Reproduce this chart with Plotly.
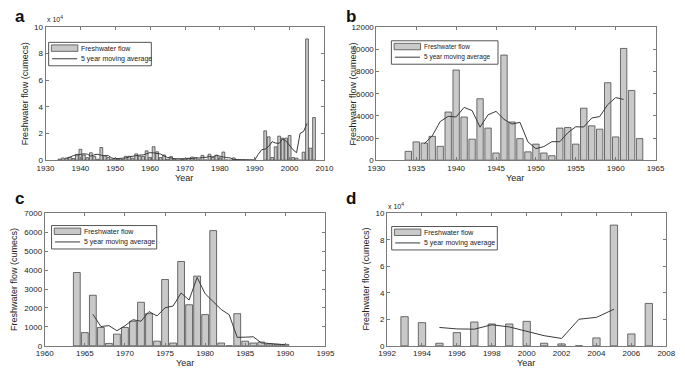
import plotly.graph_objects as go

# ---------------- data ----------------
b_years = list(range(1934, 1964))
b_flow = [800, 1650, 1550, 2150, 1250, 4350, 8150, 3900, 1900, 5550,
          2900, 650, 9500, 3450, 1950, 750, 1450, 650, 400, 2900,
          2950, 1450, 4700, 3100, 2800, 7000, 2100, 10100, 6300, 1950]
b_ma_years = list(range(1936, 1962))
b_ma = [1480, 2190, 3490, 3960, 3910, 4770, 4480, 2980, 4100, 4410,
        3690, 3260, 3420, 1650, 1040, 1230, 1670, 1670, 2480, 3020,
        3000, 3810, 3940, 5020, 5660, 5490]

c_years = list(range(1964, 1991))
c_flow = [3870, 700, 2670, 970, 130, 620, 970, 1300, 2300, 1700,
          250, 3500, 150, 4450, 2170, 3680, 1650, 6080, 150, 0,
          1700, 250, 150, 200, 100, 80, 80]
c_ma_years = list(range(1966, 1991))
c_ma = [1670, 1020, 1070, 800, 1060, 1380, 1300, 1810, 1580, 2010,
        2100, 2790, 2420, 3610, 2750, 2310, 1920, 1640, 450, 460,
        480, 160, 120, 90, 60]

d_years = list(range(1993, 2008))
d_flow = [22000, 17500, 2000, 10000, 18000, 16500, 16500, 18500, 2000, 1500,
          0, 6000, 91000, 9000, 32000]
d_ma_years = list(range(1995, 2006))
d_ma = [13900, 12800, 12600, 15900, 14300, 11000, 7700, 5600, 20100, 21500, 27600]

# moving-average points of the combined record where the panels join (panel a)
a_join1_years = [1962, 1963, 1964, 1965]
a_join1 = [4860, 4580, 3100, 2030]
a_join2_years = [1991, 1992, 1993, 1994]
a_join2 = [4430, 7900, 8300, 10300]

a_years = b_years + c_years + d_years
a_flow = b_flow + c_flow + d_flow
a_ma_years = b_ma_years + a_join1_years + c_ma_years + a_join2_years + d_ma_years
a_ma = b_ma + a_join1 + c_ma + a_join2 + d_ma

x_ticks_a = list(range(1930, 2011, 10))
x_ticks_b = list(range(1930, 1966, 5))
x_ticks_c = list(range(1960, 1996, 5))
x_ticks_d = list(range(1992, 2009, 2))
y_ticks_e4 = [0, 20000, 40000, 60000, 80000, 100000]
y_ticktext_e4 = ["0", "2", "4", "6", "8", "10"]
y_ticks_b = list(range(0, 12001, 2000))
y_ticks_c = list(range(0, 7001, 1000))

legend_labels = ["Freshwater flow", "5 year moving average"]

# ---------------- style ----------------
W, H = 685, 375
FONT = "Liberation Sans, Arial, Helvetica, sans-serif"
BAR_FILL = "#c9c9c9"
BAR_LINE = "#4a4a4a"
MA_LINE = "#3a3a3a"
AX = "#7a7a7a"


def px_x(p):
    return p / W


def px_y(p):
    return 1 - p / H


fig = go.Figure()

panels = [
    ("", a_years, a_flow, a_ma_years, a_ma, 0.8),
    ("2", b_years, b_flow, b_ma_years, b_ma, 0.8),
    ("3", c_years, c_flow, c_ma_years, c_ma, 0.85),
    ("4", d_years, d_flow, d_ma_years, d_ma, 0.42),
]

for suf, yrs, flow, myrs, ma, bw in panels:
    fig.add_trace(go.Bar(
        x=yrs, y=flow, width=bw, name=legend_labels[0],
        marker=dict(color=BAR_FILL, line=dict(color=BAR_LINE, width=0.8)),
        xaxis="x" + suf, yaxis="y" + suf, showlegend=False,
    ))
    fig.add_trace(go.Scatter(
        x=myrs, y=ma, mode="lines", name=legend_labels[1],
        line=dict(color=MA_LINE, width=1),
        xaxis="x" + suf, yaxis="y" + suf, showlegend=False,
    ))


def xax(domain, rng, ticks, anchor):
    return dict(domain=domain, range=rng, tickvals=ticks, ticks="inside",
                ticklen=3, tickcolor=AX, showline=True, linecolor=AX, linewidth=1,
                mirror="ticks", showgrid=False, zeroline=False, anchor=anchor,
                tickfont=dict(size=8, color="#222", family=FONT))


def yax(domain, rng, ticks, anchor, text=None):
    d = dict(domain=domain, range=rng, tickvals=ticks, ticks="inside",
             ticklen=3, tickcolor=AX, showline=True, linecolor=AX, linewidth=1,
             mirror="ticks", showgrid=False, zeroline=False, anchor=anchor,
             tickfont=dict(size=8, color="#222", family=FONT))
    d["ticktext"] = text if text is not None else [str(t) for t in ticks]
    return d


top_dom = [px_y(160), px_y(23.5)]
bot_dom = [px_y(350.3), px_y(214.3)]

fig.update_layout(
    width=W, height=H, margin=dict(l=0, r=0, t=0, b=0),
    paper_bgcolor="white", plot_bgcolor="white",
    font=dict(family=FONT, color="#222"),
    barmode="overlay", showlegend=False,
    xaxis=xax([px_x(37.5), px_x(324)], [1930, 2010], x_ticks_a, "y"),
    yaxis=yax(top_dom, [0, 100000], y_ticks_e4, "x", y_ticktext_e4),
    xaxis2=xax([px_x(377.3), px_x(664)], [1930, 1965], x_ticks_b, "y2"),
    yaxis2=yax([px_y(160), px_y(24)], [0, 12000], y_ticks_b, "x2"),
    xaxis3=xax([px_x(36.7), px_x(325)], [1960, 1995], x_ticks_c, "y3"),
    yaxis3=yax(bot_dom, [0, 7000], y_ticks_c, "x3"),
    xaxis4=xax([px_x(388.3), px_x(675)], [1992, 2008], x_ticks_d, "y4"),
    yaxis4=yax(bot_dom, [0, 100000], y_ticks_e4, "x4", y_ticktext_e4),
)

ann = []
shapes = []

# hand-drawn legend boxes (left, top, width, font size)
for lx, ly, lw, fs in [(40.7, 39.3, 105.5, 7), (392.7, 37.7, 109.5, 6.5),
                       (43.7, 227.0, 108.0, 7), (393.0, 228.0, 108.5, 7)]:
    shapes.append(dict(type="rect", xref="paper", yref="paper",
                       x0=px_x(lx), x1=px_x(lx + lw), y0=px_y(ly + 24), y1=px_y(ly),
                       line=dict(color="#555", width=1), fillcolor="white", layer="above"))
    shapes.append(dict(type="rect", xref="paper", yref="paper",
                       x0=px_x(lx + 2.8), x1=px_x(lx + 30), y0=px_y(ly + 9.2), y1=px_y(ly + 2.6),
                       line=dict(color=BAR_LINE, width=0.8), fillcolor=BAR_FILL, layer="above"))
    shapes.append(dict(type="line", xref="paper", yref="paper",
                       x0=px_x(lx + 3.6), x1=px_x(lx + 29.3), y0=px_y(ly + 16.8), y1=px_y(ly + 16.8),
                       line=dict(color=MA_LINE, width=1), layer="above"))
    for i, lab in enumerate(legend_labels):
        ann.append(dict(text=lab, x=px_x(lx + 31.5), y=px_y(ly + (6.2 if i == 0 else 16.8)),
                        xref="paper", yref="paper", xanchor="left", yanchor="middle",
                        showarrow=False, font=dict(size=fs, family=FONT, color="#222")))

# panel letters
for letter, x, y in [("a", 4, 1), ("b", 344, 1), ("c", 4, 187), ("d", 344, 187)]:
    ann.append(dict(text="<b>" + letter + "</b>", x=px_x(x), y=px_y(y),
                    xref="paper", yref="paper", xanchor="left", yanchor="top",
                    showarrow=False, font=dict(size=17, family=FONT, color="#111")))
# x axis titles
for cx, cy in [(180, 178), (520, 178), (181, 368), (531, 368)]:
    ann.append(dict(text="Year", x=px_x(cx), y=px_y(cy), xref="paper", yref="paper",
                    xanchor="center", yanchor="middle", showarrow=False,
                    font=dict(size=9, family=FONT, color="#222")))
# y axis titles
for cx, cy in [(16, 92), (353, 92), (5, 282), (367, 282)]:
    ann.append(dict(text="Freshwater flow (cumecs)", x=px_x(cx), y=px_y(cy),
                    xref="paper", yref="paper", xanchor="center", yanchor="middle",
                    textangle=-90, showarrow=False,
                    font=dict(size=9, family=FONT, color="#222")))
# exponent labels
for cx, cy in [(36.5, 22), (387.5, 213)]:
    ann.append(dict(text="x 10<sup>4</sup>", x=px_x(cx), y=px_y(cy),
                    xref="paper", yref="paper", xanchor="left", yanchor="bottom",
                    showarrow=False, font=dict(size=7, family=FONT, color="#222")))

fig.update_layout(annotations=ann, shapes=shapes)

fig.write_html("out.html", config={"displayModeBar": False},
               post_script="document.body.style.margin='0';document.body.style.padding='0';")
